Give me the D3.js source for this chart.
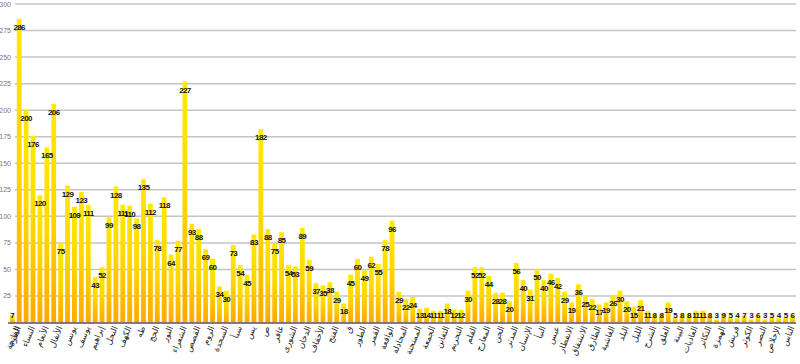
<!DOCTYPE html>
<html><head><meta charset="utf-8">
<script src="https://cdn.jsdelivr.net/npm/d3@7"></script>
<style>body{margin:0;background:#fff}svg{display:block}</style>
</head><body><svg id="c" width="800" height="364"></svg>
<script>
const surahs = ["الفاتحة","البقرة","آل عمران","النساء","المائدة","الأنعام","الأعراف","الأنفال","التوبة","يونس",
"هود","يوسف","الرعد","إبراهيم","الحجر","النحل","الإسراء","الكهف","مريم","طه",
"الأنبياء","الحج","المؤمنون","النور","الفرقان","الشعراء","النمل","القصص","العنكبوت","الروم",
"لقمان","السجدة","الأحزاب","سبأ","فاطر","يس","الصافات","ص","الزمر","غافر",
"فصلت","الشورى","الزخرف","الدخان","الجاثية","الأحقاف","محمد","الفتح","الحجرات","ق",
"الذاريات","الطور","النجم","القمر","الرحمن","الواقعة","الحديد","المجادلة","الحشر","الممتحنة",
"الصف","الجمعة","المنافقون","التغابن","الطلاق","التحريم","الملك","القلم","الحاقة","المعارج",
"نوح","الجن","المزمل","المدثر","القيامة","الإنسان","المرسلات","النبأ","النازعات","عبس",
"التكوير","الانفطار","المطففين","الانشقاق","البروج","الطارق","الأعلى","الغاشية","الفجر","البلد",
"الشمس","الليل","الضحى","الشرح","التين","العلق","القدر","البينة","الزلزلة","العاديات",
"القارعة","التكاثر","العصر","الهمزة","الفيل","قريش","الماعون","الكوثر","الكافرون","النصر",
"المسد","الإخلاص","الفلق","الناس"];
const verses = [7,286,200,176,120,165,206,75,129,109,
123,111,43,52,99,128,111,110,98,135,
112,78,118,64,77,227,93,88,69,60,
34,30,73,54,45,83,182,88,75,85,
54,53,89,59,37,35,38,29,18,45,
60,49,62,55,78,96,29,22,24,13,
14,11,11,18,12,12,30,52,52,44,
28,28,20,56,40,31,50,40,46,42,
29,19,36,25,22,17,19,26,30,20,
15,21,11,8,8,19,5,8,8,11,
11,8,3,9,5,4,7,3,6,3,
5,4,5,6];
const yTicks = [25,50,75,100,125,150,175,200,225,250,275,300];

const svg = d3.select("#c");
const idx = d3.range(surahs.length);
const x = d3.scaleBand().domain(idx).range([8.85, 795.95]).paddingInner(0.3).paddingOuter(0.15);
const y = d3.scaleLinear().domain([0,300]).range([322.5, 4]);

const defs = svg.append("defs");
const g = defs.append("linearGradient").attr("id","bg").attr("x1",0).attr("y1",0).attr("x2",0).attr("y2",1);
g.append("stop").attr("offset","0%").attr("stop-color","#FFEA00");
g.append("stop").attr("offset","50%").attr("stop-color","#FFD600");
g.append("stop").attr("offset","100%").attr("stop-color","#FFA800");

// gridlines
svg.append("g").selectAll("line").data(yTicks).join("line")
  .attr("x1",15).attr("x2",796)
  .attr("y1",d=>y(d)).attr("y2",d=>y(d))
  .attr("stroke","#c4c4c4").attr("stroke-width",1.5);

// y tick labels
svg.append("g").selectAll("text").data(yTicks).join("text")
  .attr("x",11).attr("y",d=>y(d)+2.5)
  .attr("text-anchor","end")
  .attr("font-family","Liberation Sans, Arial, sans-serif")
  .attr("font-size",7).attr("fill","#777")
  .text(d=>d);

// bars
svg.append("g").selectAll("rect").data(idx).join("rect")
  .attr("x",i=>x(i)).attr("width",x.bandwidth())
  .attr("y",i=>y(verses[i])).attr("height",i=>y(0)-y(verses[i]))
  .attr("fill","url(#bg)");

// baseline
svg.append("line").attr("x1",8).attr("x2",796).attr("y1",y(0)+0.5).attr("y2",y(0)+0.5)
  .attr("stroke","#555").attr("stroke-width",1.5);

// value labels
svg.append("g").selectAll("text").data(idx).join("text")
  .attr("x",i=>x(i)+x.bandwidth()/2)
  .attr("y",i=>Math.min(y(verses[i])+11, 318))
  .attr("text-anchor","middle")
  .attr("font-family","Liberation Sans Narrow, Arial Narrow, Liberation Sans, sans-serif")
  .attr("font-weight","bold").attr("font-size",8).attr("letter-spacing",-0.6).attr("fill","#111")
  .text(i=>verses[i]);

// x labels (every other category)
const shown = idx.filter(i => i===0 || i%2===1);
svg.append("g").selectAll("text").data(shown).join("text")
  .attr("transform",i=>`translate(${Math.max(x(i)+x.bandwidth()/2+2, 20)},${y(0)+5}) rotate(-68)`)
  .attr("text-anchor","end")
  .attr("font-family","DejaVu Sans, sans-serif")
  .attr("font-size",8.5).attr("fill","#222")
  .text(i=>surahs[i]);
</script></body></html>
